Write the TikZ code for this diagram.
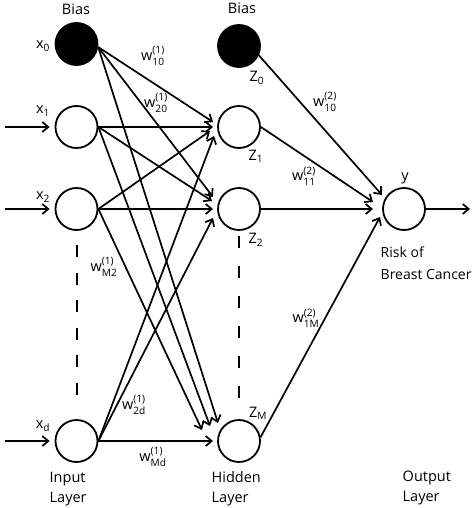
\documentclass[tikz,border=0pt]{standalone}
\usepackage{fontspec}
\setmainfont{Open Sans}
\usepackage{amsmath}
\usetikzlibrary{arrows.meta,calc}
\newcommand{\wlab}[2]{w$^{\text{(#1)}}_{\text{#2}}$}
\begin{document}
\begin{tikzpicture}[x=1pt,y=-1pt,
  neuron/.style={circle,draw,line width=1.8pt,minimum size=42pt,inner sep=0pt},
  biasn/.style={neuron,fill=black},
  conn/.style={line width=1.7pt,-{Straight Barb[length=6pt,width=10pt,line width=1.7pt]}},
  lbl/.style={font=\fontsize{14.5}{18}\selectfont,inner sep=0pt},
  layer/.style={font=\fontsize{14.5}{20}\selectfont,align=left,inner sep=0pt,anchor=north west},
  dashline/.style={line width=2pt}
]
\useasboundingbox (0,0) rectangle (474,508);

% neurons
\node[biasn] (x0) at (76.5,44) {};
\node[neuron] (x1) at (76.5,127) {};
\node[neuron] (x2) at (76.5,209) {};
\node[neuron] (xd) at (76.5,441) {};
\node[biasn] (Z0) at (239,46) {};
\node[neuron] (Z1) at (239,127) {};
\node[neuron] (Z2) at (239,209) {};
\node[neuron] (ZM) at (239,441) {};
\node[neuron] (y) at (404,209) {};

% dashed continuation lines
\draw[dashline,dash pattern=on 12pt off 15.5pt] ($(x2)+(0,36)$) -- ($(xd)+(0,-46)$);
\draw[dashline,dash pattern=on 12pt off 18pt] ($(Z2)+(0,27)$) -- ($(ZM)+(0,-43)$);

% input arrows
\coordinate (i1) at (5,127);
\coordinate (i2) at (5,209);
\coordinate (id) at (5,441);
\coordinate (out) at (470,209);
\draw[conn,shorten >=5pt] (i1) -- (x1.west);
\draw[conn,shorten >=5pt] (i2) -- (x2.west);
\draw[conn,shorten >=5pt] (id) -- (xd.west);
\draw[conn] (y.east) -- (out);

% input -> hidden
\draw[conn] (x0.-8) -- ($(Z1)+(-26,-5)$);
\draw[conn] (x0.-8) -- ($(Z2)+(-26,-12)$);
\draw[conn] (x0.-8) -- ($(ZM)+(-21,-18)$);
\draw[conn] (x1.east) -- ($(Z1)+(-26,0)$);
\draw[conn] (x1.east) -- ($(Z2)+(-27,-8)$);
\draw[conn] (x1.east) -- ($(ZM)+(-29,-15)$);
\draw[conn] (x2.east) -- ($(Z1)+(-29,4)$);
\draw[conn] (x2.east) -- ($(Z2)+(-26,0)$);
\draw[conn] (x2.east) -- ($(ZM)+(-37,-11)$);
\draw[conn] (xd.east) -- ($(Z1)+(-25,9)$);
\draw[conn] (xd.east) -- ($(Z2)+(-26,9)$);
\draw[conn] (xd.east) -- ($(ZM)+(-26,0)$);

% hidden -> output
\draw[conn] (Z0.-25) -- ($(y)+(-22,-14)$);
\draw[conn] (Z1.east) -- ($(y)+(-31,-7)$);
\draw[conn] (Z2.east) -- ($(y)+(-31,0)$);
\draw[conn] (ZM.10) -- ($(y)+(-24,8)$);

% labels
\node[lbl] (lb0) at (76,9) {Bias};
\node[lbl] (lb1) at (242,8) {Bias};
\node[lbl] (lx0) at (43,46) {x\textsubscript{0}};
\node[lbl] (lx1) at (43,111) {x\textsubscript{1}};
\node[lbl] (lx2) at (43,197) {x\textsubscript{2}};
\node[lbl] (lxd) at (43,426) {x\textsubscript{d}};
\node[lbl] (lz0) at (257,78) {Z\textsubscript{0}};
\node[lbl] (lz1) at (256,156) {Z\textsubscript{1}};
\node[lbl] (lz2) at (256,240) {Z\textsubscript{2}};
\node[lbl] (lzm) at (258,413) {Z\textsubscript{M}};
\node[lbl] (ly) at (405,178) {y};

\node[lbl] (w1) at (153,56) {\wlab{1}{10}};
\node[lbl] (w2) at (156,103) {\wlab{1}{20}};
\node[lbl] (w3) at (104,267) {\wlab{1}{M2}};
\node[lbl] (w4) at (134,405) {\wlab{1}{2d}};
\node[lbl] (w5) at (153,457) {\wlab{1}{Md}};
\node[lbl] (w6) at (325,102) {\wlab{2}{10}};
\node[lbl] (w7) at (304,176) {\wlab{2}{11}};
\node[lbl] (w8) at (306,318) {\wlab{2}{1M}};

\node[layer,font=\fontsize{14}{22}\selectfont] (risk) at (380.5,247) {Risk of\\Breast Cancer};
\node[layer] (inl) at (49.5,472) {Input\\Layer};
\node[layer] (hidl) at (211.5,471.5) {Hidden\\Layer};
\node[layer] (outl) at (402.5,471) {Output\\Layer};
\end{tikzpicture}
\end{document}
